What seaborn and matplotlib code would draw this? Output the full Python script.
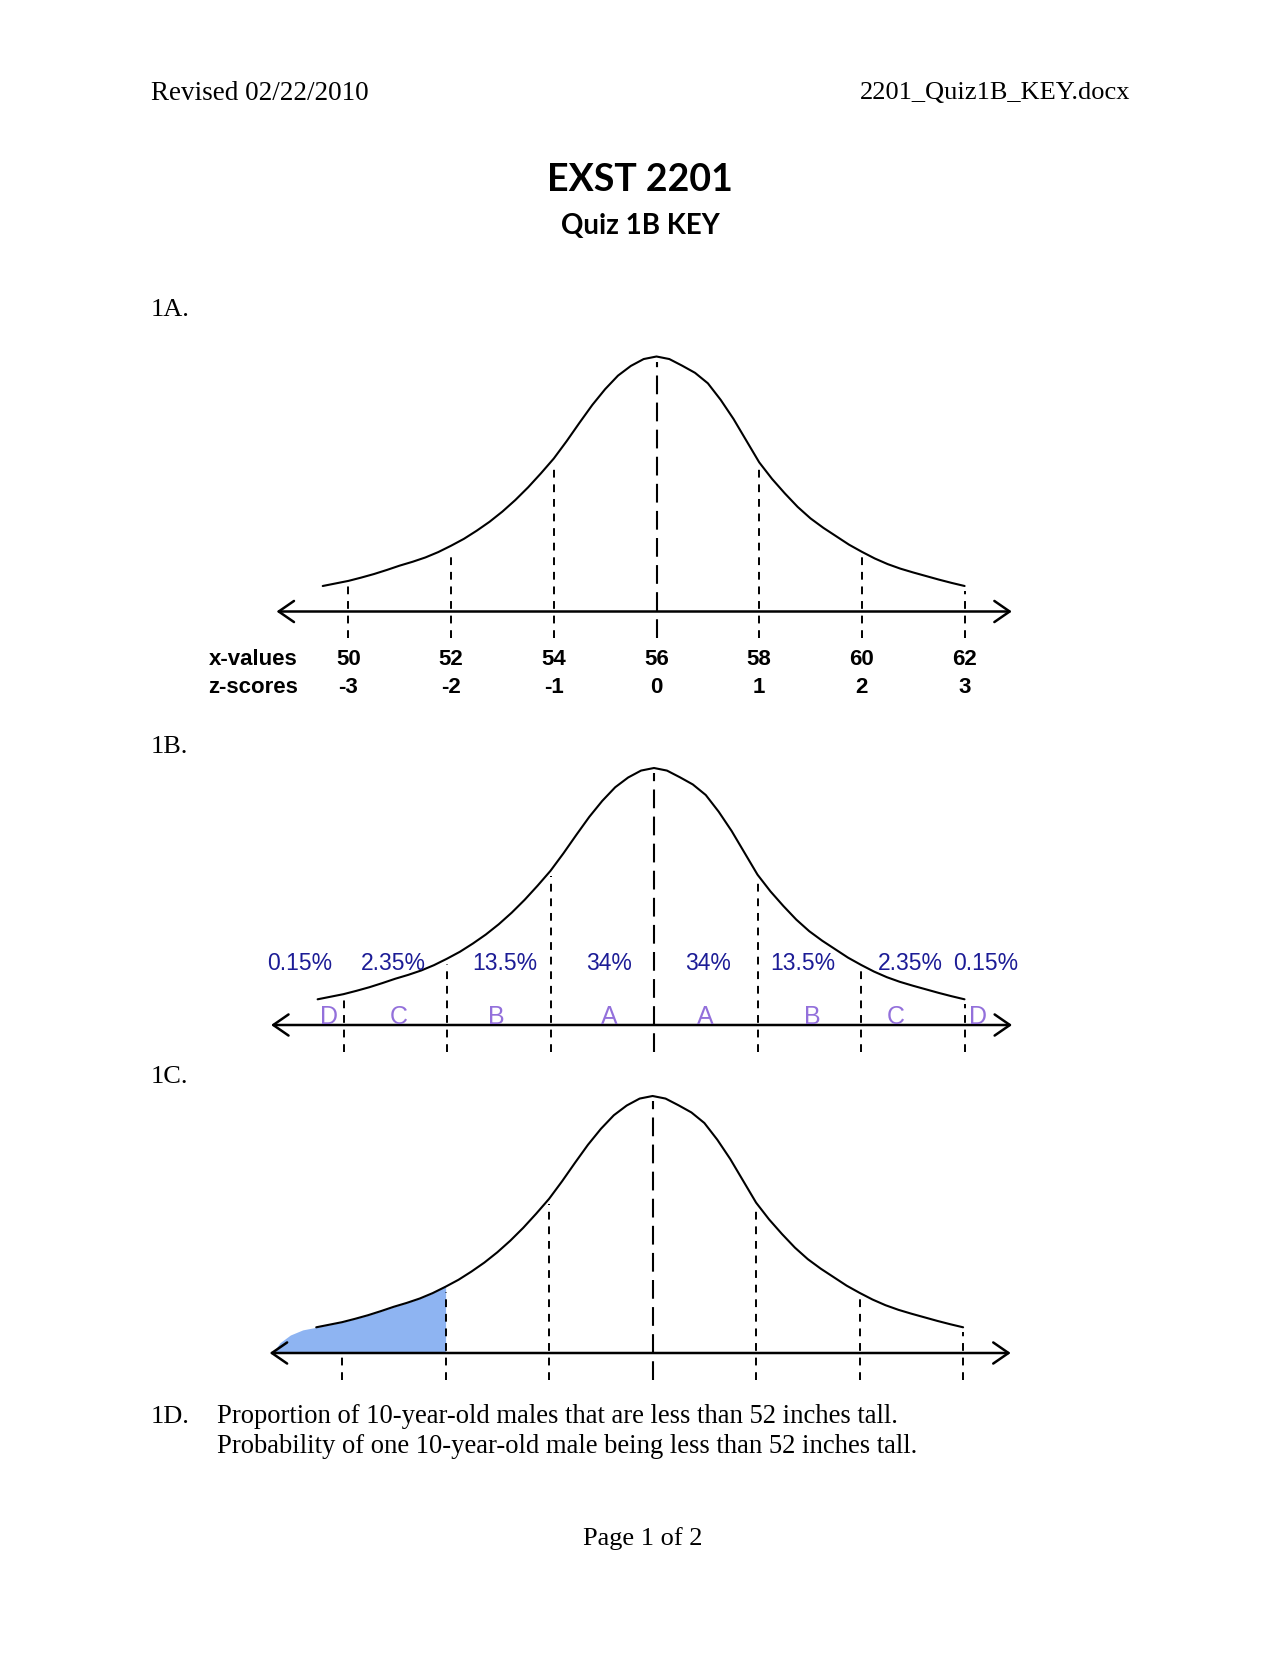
import matplotlib
matplotlib.use("Agg")
import matplotlib.pyplot as plt
import seaborn as sns

# curve heights (peak = 1), by z position
curve_z = [-3.25, -3.125, -3.0, -2.875, -2.75, -2.625, -2.5, -2.375, -2.25, -2.125,
           -2.0, -1.875, -1.75, -1.625, -1.5, -1.375, -1.25, -1.125, -1.0, -0.875,
           -0.75, -0.625, -0.5, -0.375, -0.25, -0.125, 0.0, 0.125, 0.25, 0.375,
           0.5, 0.625, 0.75, 0.875, 1.0, 1.125, 1.25, 1.375, 1.5, 1.625,
           1.75, 1.875, 2.0, 2.125, 2.25, 2.375, 2.5, 2.625, 2.75, 2.875, 3.0]
curve_h = [0.100, 0.110, 0.120, 0.133, 0.147, 0.163, 0.180, 0.195, 0.212, 0.233,
           0.258, 0.285, 0.317, 0.352, 0.392, 0.437, 0.487, 0.542, 0.600, 0.668,
           0.740, 0.810, 0.872, 0.925, 0.963, 0.990, 1.000, 0.990, 0.964, 0.936,
           0.895, 0.830, 0.755, 0.670, 0.585, 0.520, 0.463, 0.410, 0.365, 0.328,
           0.295, 0.262, 0.234, 0.208, 0.186, 0.168, 0.153, 0.139, 0.125, 0.112, 0.100]

# shaded tail in 1C runs on past the curve start down to the arrow
tail_z = [-3.67, -3.6, -3.5, -3.38]
tail_h = [0.0, 0.04, 0.07, 0.09]

tick_z = [-3, -2, -1, 0, 1, 2, 3]
x_values = ["50", "52", "54", "56", "58", "60", "62"]
z_scores = ["-3", "-2", "-1", "0", "1", "2", "3"]
pct_labels = ["0.15%", "2.35%", "13.5%", "34%", "34%", "13.5%", "2.35%", "0.15%"]
grade_labels = ["D", "C", "B", "A", "A", "B", "C", "D"]
shade_to = -2

# layout (pixels on the 1280 x 1656 page)
W, H = 1280, 1656
pct_pos = [-3.42, -2.52, -1.44, -0.43, 0.52, 1.44, 2.48, 3.2]
grade_pos = [-3.14, -2.47, -1.52, -0.43, 0.50, 1.53, 2.34, 3.13]
XLIM, YLIM = (-4.4, 4.0), (-0.35, 1.1)

sns.set_theme(style="white")
plt.rcParams["font.family"] = ["Liberation Sans", "DejaVu Sans"]
plt.rcParams["text.color"] = "black"

fig = plt.figure(figsize=(W / 100, H / 100), dpi=100)


def make_panel(cx, sx, ay, sy):
    left = cx + XLIM[0] * sx
    right = cx + XLIM[1] * sx
    top = ay - YLIM[1] * sy
    bottom = ay - YLIM[0] * sy
    ax = fig.add_axes([left / W, 1 - bottom / H, (right - left) / W, (bottom - top) / H])
    ax.set_xlim(*XLIM)
    ax.set_ylim(*YLIM)
    ax.set_axis_off()
    return ax


def draw_curve(ax):
    sns.lineplot(x=curve_z, y=curve_h, ax=ax, color="black", lw=1.5,
                 sort=False, estimator=None, zorder=5)
    for z in tick_z:
        top = curve_h[curve_z.index(z)]
        if z == 0:
            ax.plot([z, z], [-0.105, top - 0.02], color="black", lw=1.5,
                    dashes=(9, 4), zorder=2)
        else:
            ax.plot([z, z], [-0.105, top - 0.02], color="black", lw=1.4,
                    dashes=(4, 3.5), zorder=4 if z == shade_to else 2)
    ax.annotate("", xy=(3.46, 0), xytext=(-3.7, 0),
                arrowprops=dict(arrowstyle="<->,head_length=0.55,head_width=0.38",
                                lw=1.8, color="black", shrinkA=0, shrinkB=0,
                                mutation_scale=20), zorder=6)


serif = ["Liberation Serif", "DejaVu Serif"]
fig.text(151 / W, 1 - 93 / H, "Revised 02/22/2010", family=serif, fontsize=19.5,
         ha="left", va="center")
fig.text(1130 / W, 1 - 93 / H, "2201_Quiz1B_KEY.docx", family=serif, fontsize=19,
         ha="right", va="center")
fig.text(640 / W, 1 - 180 / H, "EXST 2201", family=["Lato", "DejaVu Sans"],
         fontsize=27, weight="bold", ha="center", va="center")
fig.text(640 / W, 1 - 226 / H, "Quiz 1B KEY", family=["Lato", "DejaVu Sans"],
         fontsize=20, weight="bold", ha="center", va="center")
for lab, y in [("1A.", 310), ("1B.", 747), ("1C.", 1077)]:
    fig.text(151 / W, 1 - y / H, lab, family=serif, fontsize=19, ha="left", va="center")

# 1A
ax1 = make_panel(656.5, 102.7, 612.5, 255)
draw_curve(ax1)
for z, xv, zs in zip(tick_z, x_values, z_scores):
    ax1.text(z, -0.186, xv, ha="center", va="center", fontsize=16, weight="bold")
    ax1.text(z, -0.294, zs, ha="center", va="center", fontsize=16, weight="bold")
ax1.text(-3.925, -0.186, "x-values", ha="center", va="center", fontsize=16, weight="bold")
ax1.text(-3.925, -0.294, "z-scores", ha="center", va="center", fontsize=16, weight="bold")

# 1B
ax2 = make_panel(654, 103.5, 1026, 257)
draw_curve(ax2)
for z, lab in zip(pct_pos, pct_labels):
    ax2.text(z, 0.242, lab, ha="center", va="center", fontsize=16.5, color="#1c1c96",
             zorder=7)
for z, lab in zip(grade_pos, grade_labels):
    ax2.text(z, 0.034, lab, ha="center", va="center", fontsize=18, color="#9370db",
             zorder=7)

# 1C
ax3 = make_panel(652.6, 103.5, 1354, 257)
draw_curve(ax3)
fill_z = tail_z + [z for z in curve_z if z <= shade_to]
fill_h = tail_h + [h for z, h in zip(curve_z, curve_h) if z <= shade_to]
ax3.fill_between(fill_z, 0, fill_h, color="#8eb4f2", lw=0, zorder=3)

fig.text(151 / W, 1 - 1417 / H, "1D.", family=serif, fontsize=19, ha="left", va="center")
fig.text(217 / W, 1 - 1417 / H,
         "Proportion of 10-year-old males that are less than 52 inches tall.",
         family=serif, fontsize=19.2, ha="left", va="center")
fig.text(217 / W, 1 - 1447 / H,
         "Probability of one 10-year-old male being less than 52 inches tall.",
         family=serif, fontsize=19.2, ha="left", va="center")
fig.text(643 / W, 1 - 1539 / H, "Page 1 of 2", family=serif, fontsize=19,
         ha="center", va="center")

fig.savefig("out.png", dpi=100, facecolor="white")
